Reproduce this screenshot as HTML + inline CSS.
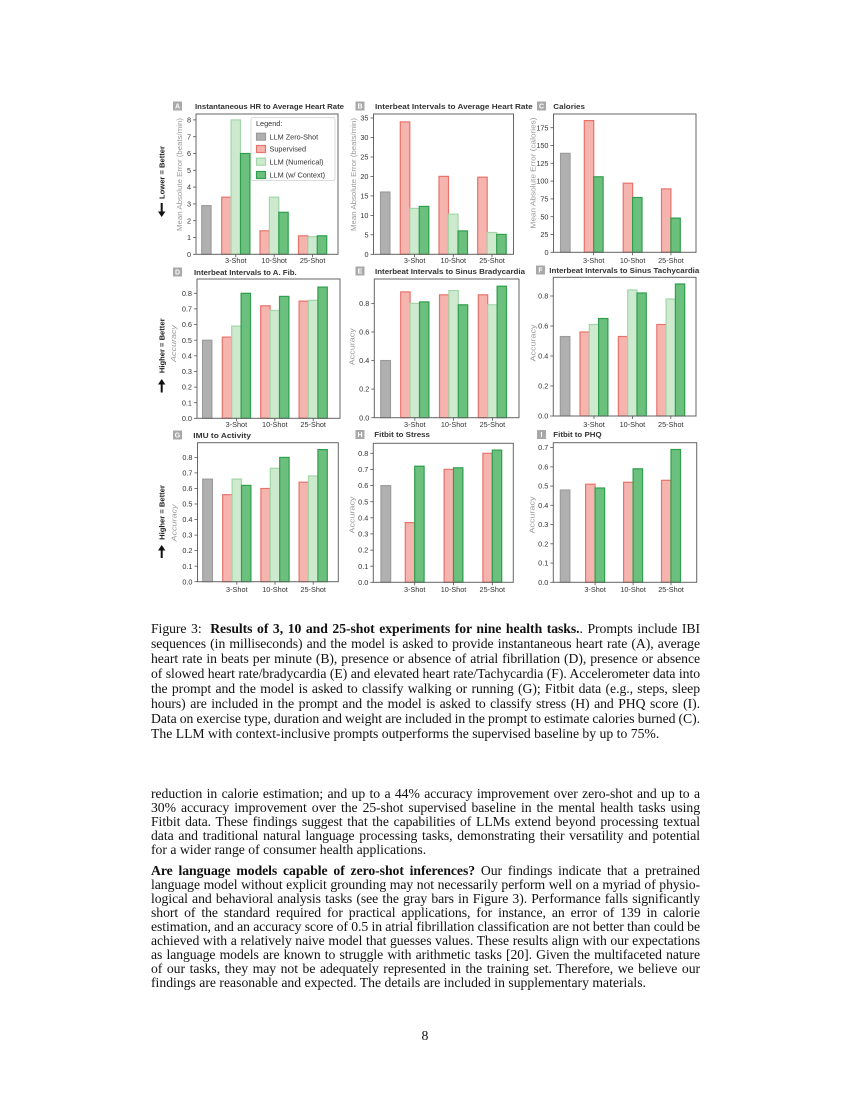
<!DOCTYPE html>
<html><head><meta charset="utf-8">
<style>
html,body{margin:0;padding:0;background:#fff;}
body{width:850px;height:1100px;position:relative;overflow:hidden;}
svg{position:absolute;left:0;top:0;}
.t{font-family:"Liberation Sans",sans-serif;font-size:7.3px;fill:#333;}
.ttl{font-family:"Liberation Sans",sans-serif;font-weight:bold;font-size:7.6px;fill:#333;}
.yl{font-family:"Liberation Sans",sans-serif;font-size:7.4px;fill:#999;}
.hb{font-family:"Liberation Sans",sans-serif;font-weight:bold;font-size:7.6px;fill:#222;}
.bd{font-family:"Liberation Sans",sans-serif;font-weight:bold;font-size:7px;fill:#fff;}
.g{fill:#b0b0b0;stroke:#9a9a9a;stroke-width:1.1;}
.s{fill:#f6b4ae;stroke:#e8736c;stroke-width:1.2;}
.n{fill:#cdeacf;stroke:#a3d6a9;stroke-width:1.2;}
.c{fill:#6cc07d;stroke:#2f9e4d;stroke-width:1.2;}
.fr{fill:none;stroke:#666;stroke-width:1;}
.tk{stroke:#555;stroke-width:0.8;}
.ln{position:absolute;left:151px;width:549px;height:17px;line-height:17px;font-family:"Liberation Serif",serif;font-size:13.7px;color:#111;white-space:normal;word-spacing:-1.8px;letter-spacing:-0.05px;overflow:hidden;}
.j{text-align:justify;text-align-last:justify;}
</style></head>
<body>
<svg width="850" height="600" viewBox="0 0 850 600">
<!-- ================= Panel A ================= -->
<rect x="173" y="101.5" width="9" height="9" fill="#a8a8a8"/><text class="bd" x="177.5" y="108.6" text-anchor="middle">A</text>
<text class="ttl" x="195" y="108.8" textLength="149" lengthAdjust="spacingAndGlyphs">Instantaneous HR to Average Heart Rate</text>
<rect class="g" x="201.7" y="205.6" width="9.4" height="48.7"/>
<rect class="s" x="221.7" y="197.2" width="9.4" height="57.1"/>
<rect class="n" x="231.1" y="119.9" width="9.4" height="134.4"/>
<rect class="c" x="240.5" y="153.5" width="9.4" height="100.8"/>
<rect class="s" x="260.0" y="230.8" width="9.4" height="23.5"/>
<rect class="n" x="269.4" y="197.2" width="9.4" height="57.1"/>
<rect class="c" x="278.8" y="212.3" width="9.4" height="42"/>
<rect class="s" x="298.5" y="235.8" width="9.4" height="18.5"/>
<rect class="n" x="307.9" y="236.7" width="9.4" height="17.6"/>
<rect class="c" x="317.3" y="235.8" width="9.4" height="18.5"/>
<rect class="fr" x="196" y="114" width="142" height="140.3"/>
<g class="tk"><line x1="193" x2="196" y1="254.3" y2="254.3"/><line x1="193" x2="196" y1="237.5" y2="237.5"/><line x1="193" x2="196" y1="220.7" y2="220.7"/><line x1="193" x2="196" y1="203.9" y2="203.9"/><line x1="193" x2="196" y1="187.1" y2="187.1"/><line x1="193" x2="196" y1="170.3" y2="170.3"/><line x1="193" x2="196" y1="153.5" y2="153.5"/><line x1="193" x2="196" y1="136.7" y2="136.7"/><line x1="193" x2="196" y1="119.9" y2="119.9"/>
<line x1="235.8" x2="235.8" y1="254.3" y2="257.3"/><line x1="274.2" x2="274.2" y1="254.3" y2="257.3"/><line x1="312.6" x2="312.6" y1="254.3" y2="257.3"/></g>
<g class="t" text-anchor="end"><text x="191" y="256.9">0</text><text x="191" y="240.1">1</text><text x="191" y="223.3">2</text><text x="191" y="206.5">3</text><text x="191" y="189.7">4</text><text x="191" y="172.9">5</text><text x="191" y="156.1">6</text><text x="191" y="139.3">7</text><text x="191" y="122.5">8</text></g>
<g class="t" text-anchor="middle"><text x="235.8" y="262.8">3-Shot</text><text x="274.2" y="262.8">10-Shot</text><text x="312.6" y="262.8">25-Shot</text></g>
<text class="yl" transform="translate(182,174.5) rotate(-90)" text-anchor="middle" textLength="113" lengthAdjust="spacingAndGlyphs">Mean Absolute Error (beats/min)</text>
<text class="hb" transform="translate(164.5,172.5) rotate(-90)" text-anchor="middle">Lower = Better</text>
<polygon points="161.7,217 158,211.5 165.4,211.5" fill="#111"/><rect x="160.7" y="203" width="2" height="9" fill="#111"/>
<!-- legend -->
<rect x="251" y="117.5" width="84" height="63" rx="2" fill="#fff" stroke="#cfcfcf" stroke-width="0.8"/>
<text class="t" x="256" y="126" fill="#444">Legend:</text>
<rect class="g" x="256.5" y="133.2" width="9" height="7"/><text class="t" x="269.5" y="139.3">LLM Zero-Shot</text>
<rect class="s" x="256.5" y="145.5" width="9" height="7"/><text class="t" x="269.5" y="151.6">Supervised</text>
<rect class="n" x="256.5" y="158.2" width="9" height="7"/><text class="t" x="269.5" y="164.3">LLM (Numerical)</text>
<rect class="c" x="256.5" y="171.5" width="9" height="7"/><text class="t" x="269.5" y="177.6">LLM (w/ Context)</text>

<!-- ================= Panel B ================= -->
<rect x="355.5" y="101.5" width="9" height="9" fill="#a8a8a8"/><text class="bd" x="360" y="108.6" text-anchor="middle">B</text>
<text class="ttl" x="375" y="108.8" textLength="157.7" lengthAdjust="spacingAndGlyphs">Interbeat Intervals to Average Heart Rate</text>
<rect class="g" x="380.5" y="192.0" width="9.5" height="62.3"/>
<rect class="s" x="400.3" y="121.9" width="9.5" height="132.4"/>
<rect class="n" x="409.8" y="208.4" width="9.5" height="45.9"/>
<rect class="c" x="419.3" y="206.4" width="9.5" height="47.9"/>
<rect class="s" x="439.0" y="176.4" width="9.5" height="77.9"/>
<rect class="n" x="448.5" y="214.2" width="9.5" height="40.1"/>
<rect class="c" x="458.0" y="230.9" width="9.5" height="23.4"/>
<rect class="s" x="477.7" y="177.2" width="9.5" height="77.1"/>
<rect class="n" x="487.2" y="232.5" width="9.5" height="21.8"/>
<rect class="c" x="496.7" y="234.4" width="9.5" height="19.9"/>
<rect class="fr" x="373.5" y="114" width="140" height="140.3"/>
<g class="tk"><line x1="370.5" x2="373.5" y1="254.3" y2="254.3"/><line x1="370.5" x2="373.5" y1="234.8" y2="234.8"/><line x1="370.5" x2="373.5" y1="215.4" y2="215.4"/><line x1="370.5" x2="373.5" y1="195.9" y2="195.9"/><line x1="370.5" x2="373.5" y1="176.4" y2="176.4"/><line x1="370.5" x2="373.5" y1="157" y2="157"/><line x1="370.5" x2="373.5" y1="137.5" y2="137.5"/><line x1="370.5" x2="373.5" y1="118" y2="118"/>
<line x1="414.6" x2="414.6" y1="254.3" y2="257.3"/><line x1="453.3" x2="453.3" y1="254.3" y2="257.3"/><line x1="492" x2="492" y1="254.3" y2="257.3"/></g>
<g class="t" text-anchor="end"><text x="368.5" y="256.9">0</text><text x="368.5" y="237.4">5</text><text x="368.5" y="218">10</text><text x="368.5" y="198.5">15</text><text x="368.5" y="179">20</text><text x="368.5" y="159.6">25</text><text x="368.5" y="140.1">30</text><text x="368.5" y="120.6">35</text></g>
<g class="t" text-anchor="middle"><text x="414.6" y="262.8">3-Shot</text><text x="453.3" y="262.8">10-Shot</text><text x="492" y="262.8">25-Shot</text></g>
<text class="yl" transform="translate(356,174.5) rotate(-90)" text-anchor="middle" textLength="113" lengthAdjust="spacingAndGlyphs">Mean Absolute Error (beats/min)</text>

<!-- ================= Panel C ================= -->
<rect x="537" y="101.5" width="9" height="9" fill="#a8a8a8"/><text class="bd" x="541.5" y="108.6" text-anchor="middle">C</text>
<text class="ttl" x="553.3" y="108.8" textLength="31.7" lengthAdjust="spacingAndGlyphs">Calories</text>
<rect class="g" x="560.5" y="153.3" width="9.6" height="99"/>
<rect class="s" x="584.3" y="120.6" width="9.4" height="131.7"/>
<rect class="c" x="593.7" y="176.8" width="9.4" height="75.5"/>
<rect class="s" x="623.2" y="183.2" width="9.4" height="69.1"/>
<rect class="c" x="632.6" y="197.5" width="9.4" height="54.8"/>
<rect class="s" x="661.5" y="188.9" width="9.4" height="63.4"/>
<rect class="c" x="670.9" y="218.1" width="9.4" height="34.2"/>
<rect class="fr" x="553.5" y="114" width="142.5" height="138.3"/>
<g class="tk"><line x1="550.5" x2="553.5" y1="252.3" y2="252.3"/><line x1="550.5" x2="553.5" y1="234.5" y2="234.5"/><line x1="550.5" x2="553.5" y1="216.7" y2="216.7"/><line x1="550.5" x2="553.5" y1="198.9" y2="198.9"/><line x1="550.5" x2="553.5" y1="181.1" y2="181.1"/><line x1="550.5" x2="553.5" y1="163.3" y2="163.3"/><line x1="550.5" x2="553.5" y1="145.5" y2="145.5"/><line x1="550.5" x2="553.5" y1="127.7" y2="127.7"/>
<line x1="593.7" x2="593.7" y1="252.3" y2="255.3"/><line x1="632.6" x2="632.6" y1="252.3" y2="255.3"/><line x1="670.9" x2="670.9" y1="252.3" y2="255.3"/></g>
<g class="t" text-anchor="end"><text x="548.5" y="254.9">0</text><text x="548.5" y="237.1">25</text><text x="548.5" y="219.3">50</text><text x="548.5" y="201.5">75</text><text x="548.5" y="183.7">100</text><text x="548.5" y="165.9">125</text><text x="548.5" y="148.1">150</text><text x="548.5" y="130.3">175</text></g>
<g class="t" text-anchor="middle"><text x="593.7" y="262.8">3-Shot</text><text x="632.6" y="262.8">10-Shot</text><text x="670.9" y="262.8">25-Shot</text></g>
<text class="yl" transform="translate(535.7,173) rotate(-90)" text-anchor="middle" textLength="111" lengthAdjust="spacingAndGlyphs">Mean Absolute Error (calories)</text>

<!-- ================= Panel D ================= -->
<rect x="173" y="267.5" width="9" height="9" fill="#a8a8a8"/><text class="bd" x="177.5" y="274.6" text-anchor="middle">D</text>
<text class="ttl" x="194" y="274.8" textLength="102.7" lengthAdjust="spacingAndGlyphs">Interbeat Intervals to A. Fib.</text>
<rect class="g" x="202.5" y="340.2" width="9.4" height="78.1"/>
<rect class="s" x="222.3" y="337.1" width="9.4" height="81.2"/>
<rect class="n" x="231.7" y="326.1" width="9.4" height="92.2"/>
<rect class="c" x="241.1" y="293.3" width="9.4" height="125"/>
<rect class="s" x="260.7" y="305.8" width="9.4" height="112.5"/>
<rect class="n" x="270.1" y="310.5" width="9.4" height="107.8"/>
<rect class="c" x="279.5" y="296.4" width="9.4" height="121.9"/>
<rect class="s" x="299.1" y="301.1" width="9.4" height="117.2"/>
<rect class="n" x="308.5" y="300.3" width="9.4" height="118"/>
<rect class="c" x="317.9" y="287.1" width="9.4" height="131.2"/>
<rect class="fr" x="197" y="279" width="143" height="139.3"/>
<g class="tk"><line x1="194" x2="197" y1="418.3" y2="418.3"/><line x1="194" x2="197" y1="402.7" y2="402.7"/><line x1="194" x2="197" y1="387.1" y2="387.1"/><line x1="194" x2="197" y1="371.4" y2="371.4"/><line x1="194" x2="197" y1="355.8" y2="355.8"/><line x1="194" x2="197" y1="340.2" y2="340.2"/><line x1="194" x2="197" y1="324.5" y2="324.5"/><line x1="194" x2="197" y1="308.9" y2="308.9"/><line x1="194" x2="197" y1="293.3" y2="293.3"/>
<line x1="236.4" x2="236.4" y1="418.3" y2="421.3"/><line x1="274.8" x2="274.8" y1="418.3" y2="421.3"/><line x1="313.2" x2="313.2" y1="418.3" y2="421.3"/></g>
<g class="t" text-anchor="end"><text x="192" y="420.9">0.0</text><text x="192" y="405.3">0.1</text><text x="192" y="389.7">0.2</text><text x="192" y="374">0.3</text><text x="192" y="358.4">0.4</text><text x="192" y="342.8">0.5</text><text x="192" y="327.1">0.6</text><text x="192" y="311.5">0.7</text><text x="192" y="295.9">0.8</text></g>
<g class="t" text-anchor="middle"><text x="236.4" y="426.9">3-Shot</text><text x="274.8" y="426.9">10-Shot</text><text x="313.2" y="426.9">25-Shot</text></g>
<text class="yl" transform="translate(176,343.5) rotate(-90)" text-anchor="middle" textLength="37" lengthAdjust="spacingAndGlyphs" font-style="italic">Accuracy</text>
<text class="hb" transform="translate(164.5,345.8) rotate(-90)" text-anchor="middle">Higher = Better</text>
<polygon points="161.7,379 158,384.5 165.4,384.5" fill="#111"/><rect x="160.7" y="384" width="2" height="8.5" fill="#111"/>

<!-- ================= Panel E ================= -->
<rect x="355.5" y="266.5" width="9" height="9" fill="#a8a8a8"/><text class="bd" x="360" y="273.6" text-anchor="middle">E</text>
<text class="ttl" x="375" y="273.8" textLength="150" lengthAdjust="spacingAndGlyphs">Interbeat Intervals to Sinus Bradycardia</text>
<rect class="g" x="380.7" y="360.5" width="9.8" height="57.2"/>
<rect class="s" x="400.7" y="291.9" width="9.4" height="125.8"/>
<rect class="n" x="410.1" y="303.4" width="9.4" height="114.3"/>
<rect class="c" x="419.5" y="301.9" width="9.4" height="115.8"/>
<rect class="s" x="439.5" y="294.8" width="9.4" height="122.9"/>
<rect class="n" x="448.9" y="290.5" width="9.4" height="127.2"/>
<rect class="c" x="458.3" y="304.8" width="9.4" height="112.9"/>
<rect class="s" x="478.3" y="294.8" width="9.4" height="122.9"/>
<rect class="n" x="487.7" y="304.8" width="9.4" height="112.9"/>
<rect class="c" x="497.1" y="286.2" width="9.4" height="131.5"/>
<rect class="fr" x="374.3" y="279" width="144.7" height="138.7"/>
<g class="tk"><line x1="371.3" x2="374.3" y1="417.7" y2="417.7"/><line x1="371.3" x2="374.3" y1="389.1" y2="389.1"/><line x1="371.3" x2="374.3" y1="360.5" y2="360.5"/><line x1="371.3" x2="374.3" y1="332" y2="332"/><line x1="371.3" x2="374.3" y1="303.4" y2="303.4"/>
<line x1="414.8" x2="414.8" y1="417.7" y2="420.7"/><line x1="453.6" x2="453.6" y1="417.7" y2="420.7"/><line x1="492.4" x2="492.4" y1="417.7" y2="420.7"/></g>
<g class="t" text-anchor="end"><text x="369.3" y="420.3">0.0</text><text x="369.3" y="391.7">0.2</text><text x="369.3" y="363.1">0.4</text><text x="369.3" y="334.6">0.6</text><text x="369.3" y="306">0.8</text></g>
<g class="t" text-anchor="middle"><text x="414.8" y="426.9">3-Shot</text><text x="453.6" y="426.9">10-Shot</text><text x="492.4" y="426.9">25-Shot</text></g>
<text class="yl" transform="translate(354.4,346.7) rotate(-90)" text-anchor="middle" textLength="37" lengthAdjust="spacingAndGlyphs">Accuracy</text>

<!-- ================= Panel F ================= -->
<rect x="536" y="265.5" width="9" height="9" fill="#a8a8a8"/><text class="bd" x="540.5" y="272.6" text-anchor="middle">F</text>
<text class="ttl" x="549.3" y="272.8" textLength="150" lengthAdjust="spacingAndGlyphs">Interbeat Intervals to Sinus Tachycardia</text>
<rect class="g" x="560.3" y="336.5" width="9.6" height="79.5"/>
<rect class="s" x="580" y="332" width="9.3" height="84"/>
<rect class="n" x="589.3" y="324.5" width="9.3" height="91.5"/>
<rect class="c" x="598.6" y="318.5" width="9.3" height="97.5"/>
<rect class="s" x="618.4" y="336.5" width="9.3" height="79.5"/>
<rect class="n" x="627.7" y="290" width="9.3" height="126"/>
<rect class="c" x="637" y="293" width="9.3" height="123"/>
<rect class="s" x="656.8" y="324.5" width="9.3" height="91.5"/>
<rect class="n" x="666.1" y="299" width="9.3" height="117"/>
<rect class="c" x="675.4" y="284" width="9.3" height="132"/>
<rect class="fr" x="553.3" y="277.3" width="142.7" height="138.7"/>
<g class="tk"><line x1="550.3" x2="553.3" y1="416" y2="416"/><line x1="550.3" x2="553.3" y1="386" y2="386"/><line x1="550.3" x2="553.3" y1="356" y2="356"/><line x1="550.3" x2="553.3" y1="326" y2="326"/><line x1="550.3" x2="553.3" y1="296" y2="296"/>
<line x1="594" x2="594" y1="416" y2="419"/><line x1="632.4" x2="632.4" y1="416" y2="419"/><line x1="670.8" x2="670.8" y1="416" y2="419"/></g>
<g class="t" text-anchor="end"><text x="548.3" y="418.6">0.0</text><text x="548.3" y="388.6">0.2</text><text x="548.3" y="358.6">0.4</text><text x="548.3" y="328.6">0.6</text><text x="548.3" y="298.6">0.8</text></g>
<g class="t" text-anchor="middle"><text x="594" y="426.9">3-Shot</text><text x="632.4" y="426.9">10-Shot</text><text x="670.8" y="426.9">25-Shot</text></g>
<text class="yl" transform="translate(535.4,343) rotate(-90)" text-anchor="middle" textLength="37" lengthAdjust="spacingAndGlyphs">Accuracy</text>

<!-- ================= Panel G ================= -->
<rect x="173" y="430.5" width="9" height="9" fill="#a8a8a8"/><text class="bd" x="177.5" y="437.6" text-anchor="middle">G</text>
<text class="ttl" x="193.3" y="437.8" textLength="57.7" lengthAdjust="spacingAndGlyphs">IMU to Activity</text>
<rect class="g" x="202.7" y="479.1" width="9.8" height="102.6"/>
<rect class="s" x="222.7" y="494.7" width="9.4" height="87"/>
<rect class="n" x="232.1" y="479.1" width="9.4" height="102.6"/>
<rect class="c" x="241.5" y="485.4" width="9.4" height="96.3"/>
<rect class="s" x="260.9" y="488.5" width="9.4" height="93.2"/>
<rect class="n" x="270.3" y="468.3" width="9.4" height="113.4"/>
<rect class="c" x="279.7" y="457.4" width="9.4" height="124.3"/>
<rect class="s" x="299.1" y="482.2" width="9.4" height="99.5"/>
<rect class="n" x="308.5" y="476" width="9.4" height="105.7"/>
<rect class="c" x="317.9" y="449.6" width="9.4" height="132.1"/>
<rect class="fr" x="197.5" y="442.7" width="140.8" height="139"/>
<g class="tk"><line x1="194.5" x2="197.5" y1="581.7" y2="581.7"/><line x1="194.5" x2="197.5" y1="566.2" y2="566.2"/><line x1="194.5" x2="197.5" y1="550.6" y2="550.6"/><line x1="194.5" x2="197.5" y1="535.1" y2="535.1"/><line x1="194.5" x2="197.5" y1="519.5" y2="519.5"/><line x1="194.5" x2="197.5" y1="504" y2="504"/><line x1="194.5" x2="197.5" y1="488.5" y2="488.5"/><line x1="194.5" x2="197.5" y1="472.9" y2="472.9"/><line x1="194.5" x2="197.5" y1="457.4" y2="457.4"/>
<line x1="236.8" x2="236.8" y1="581.7" y2="584.7"/><line x1="275" x2="275" y1="581.7" y2="584.7"/><line x1="313.2" x2="313.2" y1="581.7" y2="584.7"/></g>
<g class="t" text-anchor="end"><text x="192.5" y="584.3">0.0</text><text x="192.5" y="568.8">0.1</text><text x="192.5" y="553.2">0.2</text><text x="192.5" y="537.7">0.3</text><text x="192.5" y="522.1">0.4</text><text x="192.5" y="506.6">0.5</text><text x="192.5" y="491.1">0.6</text><text x="192.5" y="475.5">0.7</text><text x="192.5" y="460">0.8</text></g>
<g class="t" text-anchor="middle"><text x="236.8" y="591.9">3-Shot</text><text x="275" y="591.9">10-Shot</text><text x="313.2" y="591.9">25-Shot</text></g>
<text class="yl" transform="translate(176.7,523) rotate(-90)" text-anchor="middle" textLength="37" lengthAdjust="spacingAndGlyphs" font-style="italic">Accuracy</text>
<text class="hb" transform="translate(164.5,512.5) rotate(-90)" text-anchor="middle">Higher = Better</text>
<polygon points="161.7,545 158,550.5 165.4,550.5" fill="#111"/><rect x="160.7" y="550" width="2" height="8" fill="#111"/>

<!-- ================= Panel H ================= -->
<rect x="355.5" y="430" width="9" height="9" fill="#a8a8a8"/><text class="bd" x="360" y="437.1" text-anchor="middle">H</text>
<text class="ttl" x="374.3" y="437.1" textLength="55.7" lengthAdjust="spacingAndGlyphs">Fitbit to Stress</text>
<rect class="g" x="380.9" y="485.6" width="9.8" height="96.7"/>
<rect class="s" x="405.3" y="522.6" width="9.4" height="59.7"/>
<rect class="c" x="414.7" y="466.2" width="9.4" height="116.1"/>
<rect class="s" x="444.1" y="469.4" width="9.4" height="112.9"/>
<rect class="c" x="453.5" y="467.8" width="9.4" height="114.5"/>
<rect class="s" x="482.9" y="453.3" width="9.4" height="129"/>
<rect class="c" x="492.3" y="450.1" width="9.4" height="132.2"/>
<rect class="fr" x="373.3" y="443.3" width="140" height="139"/>
<g class="tk"><line x1="370.3" x2="373.3" y1="582.3" y2="582.3"/><line x1="370.3" x2="373.3" y1="566.2" y2="566.2"/><line x1="370.3" x2="373.3" y1="550.1" y2="550.1"/><line x1="370.3" x2="373.3" y1="533.9" y2="533.9"/><line x1="370.3" x2="373.3" y1="517.8" y2="517.8"/><line x1="370.3" x2="373.3" y1="501.7" y2="501.7"/><line x1="370.3" x2="373.3" y1="485.6" y2="485.6"/><line x1="370.3" x2="373.3" y1="469.4" y2="469.4"/><line x1="370.3" x2="373.3" y1="453.3" y2="453.3"/>
<line x1="414.7" x2="414.7" y1="582.3" y2="585.3"/><line x1="453.5" x2="453.5" y1="582.3" y2="585.3"/><line x1="492.3" x2="492.3" y1="582.3" y2="585.3"/></g>
<g class="t" text-anchor="end"><text x="368.3" y="584.9">0.0</text><text x="368.3" y="568.8">0.1</text><text x="368.3" y="552.7">0.2</text><text x="368.3" y="536.5">0.3</text><text x="368.3" y="520.4">0.4</text><text x="368.3" y="504.3">0.5</text><text x="368.3" y="488.2">0.6</text><text x="368.3" y="472">0.7</text><text x="368.3" y="455.9">0.8</text></g>
<g class="t" text-anchor="middle"><text x="414.7" y="591.9">3-Shot</text><text x="453.5" y="591.9">10-Shot</text><text x="492.3" y="591.9">25-Shot</text></g>
<text class="yl" transform="translate(354.4,515) rotate(-90)" text-anchor="middle" textLength="37" lengthAdjust="spacingAndGlyphs">Accuracy</text>

<!-- ================= Panel I ================= -->
<rect x="537" y="430" width="9" height="9" fill="#a8a8a8"/><text class="bd" x="541.5" y="437.1" text-anchor="middle">I</text>
<text class="ttl" x="553.3" y="437.1" textLength="48.3" lengthAdjust="spacingAndGlyphs">Fitbit to PHQ</text>
<rect class="g" x="560.3" y="490" width="9.6" height="92.3"/>
<rect class="s" x="585.6" y="484.2" width="9.5" height="98.1"/>
<rect class="c" x="595.1" y="488" width="9.5" height="94.3"/>
<rect class="s" x="623.6" y="482.3" width="9.5" height="100"/>
<rect class="c" x="633.1" y="468.8" width="9.5" height="113.5"/>
<rect class="s" x="661.5" y="480.3" width="9.5" height="102"/>
<rect class="c" x="671" y="449.5" width="9.5" height="132.8"/>
<rect class="fr" x="553.3" y="442.7" width="143.4" height="139.6"/>
<g class="tk"><line x1="550.3" x2="553.3" y1="582.3" y2="582.3"/><line x1="550.3" x2="553.3" y1="563.1" y2="563.1"/><line x1="550.3" x2="553.3" y1="543.8" y2="543.8"/><line x1="550.3" x2="553.3" y1="524.6" y2="524.6"/><line x1="550.3" x2="553.3" y1="505.3" y2="505.3"/><line x1="550.3" x2="553.3" y1="486.1" y2="486.1"/><line x1="550.3" x2="553.3" y1="466.9" y2="466.9"/><line x1="550.3" x2="553.3" y1="447.6" y2="447.6"/>
<line x1="595.1" x2="595.1" y1="582.3" y2="585.3"/><line x1="633.1" x2="633.1" y1="582.3" y2="585.3"/><line x1="671" x2="671" y1="582.3" y2="585.3"/></g>
<g class="t" text-anchor="end"><text x="548.3" y="584.9">0.0</text><text x="548.3" y="565.7">0.1</text><text x="548.3" y="546.4">0.2</text><text x="548.3" y="527.2">0.3</text><text x="548.3" y="507.9">0.4</text><text x="548.3" y="488.7">0.5</text><text x="548.3" y="469.5">0.6</text><text x="548.3" y="450.2">0.7</text></g>
<g class="t" text-anchor="middle"><text x="595.1" y="591.9">3-Shot</text><text x="633.1" y="591.9">10-Shot</text><text x="671" y="591.9">25-Shot</text></g>
<text class="yl" transform="translate(534.4,515) rotate(-90)" text-anchor="middle" textLength="37" lengthAdjust="spacingAndGlyphs">Accuracy</text>
</svg>

<!-- Caption -->
<div class="ln j" style="top:619.5px"><span style="margin-right:4px">Figure 3:</span> <b>Results of 3, 10 and 25-shot experiments for nine health tasks.</b>. Prompts include IBI</div>
<div class="ln j" style="top:634.5px">sequences (in milliseconds) and the model is asked to provide instantaneous heart rate (A), average</div>
<div class="ln j" style="top:649.5px">heart rate in beats per minute (B), presence or absence of atrial fibrillation (D), presence or absence</div>
<div class="ln j" style="top:664.5px">of slowed heart rate/bradycardia (E) and elevated heart rate/Tachycardia (F). Accelerometer data into</div>
<div class="ln j" style="top:679.5px">the prompt and the model is asked to classify walking or running (G); Fitbit data (e.g., steps, sleep</div>
<div class="ln j" style="top:694.5px">hours) are included in the prompt and the model is asked to classify stress (H) and PHQ score (I).</div>
<div class="ln j" style="top:709.5px">Data on exercise type, duration and weight are included in the prompt to estimate calories burned (C).</div>
<div class="ln" style="top:724.5px;word-spacing:0;letter-spacing:0">The LLM with context-inclusive prompts outperforms the supervised baseline by up to 75%.</div>

<!-- Body -->
<div class="ln j" style="top:784.6px">reduction in calorie estimation; and up to a 44% accuracy improvement over zero-shot and up to a</div>
<div class="ln j" style="top:798.7px">30% accuracy improvement over the 25-shot supervised baseline in the mental health tasks using</div>
<div class="ln j" style="top:812.8px">Fitbit data. These findings suggest that the capabilities of LLMs extend beyond processing textual</div>
<div class="ln j" style="top:826.9px">data and traditional natural language processing tasks, demonstrating their versatility and potential</div>
<div class="ln" style="top:841px;word-spacing:0;letter-spacing:0">for a wider range of consumer health applications.</div>

<div class="ln j" style="top:861.5px"><b>Are language models capable of zero-shot inferences?</b> Our findings indicate that a pretrained</div>
<div class="ln j" style="top:875.6px">language model without explicit grounding may not necessarily perform well on a myriad of physio-</div>
<div class="ln j" style="top:889.7px">logical and behavioral analysis tasks (see the gray bars in Figure 3). Performance falls significantly</div>
<div class="ln j" style="top:903.8px">short of the standard required for practical applications, for instance, an error of 139 in calorie</div>
<div class="ln j" style="top:917.9px">estimation, and an accuracy score of 0.5 in atrial fibrillation classification are not better than could be</div>
<div class="ln j" style="top:932px">achieved with a relatively naive model that guesses values. These results align with our expectations</div>
<div class="ln j" style="top:946.1px">as language models are known to struggle with arithmetic tasks [20]. Given the multifaceted nature</div>
<div class="ln j" style="top:960.2px">of our tasks, they may not be adequately represented in the training set. Therefore, we believe our</div>
<div class="ln" style="top:974.3px;word-spacing:0;letter-spacing:0">findings are reasonable and expected. The details are included in supplementary materials.</div>

<div style="position:absolute;left:0;width:850px;top:1027px;text-align:center;font-family:'Liberation Serif',serif;font-size:13.8px;line-height:17px;color:#111;">8</div>
</body></html>
